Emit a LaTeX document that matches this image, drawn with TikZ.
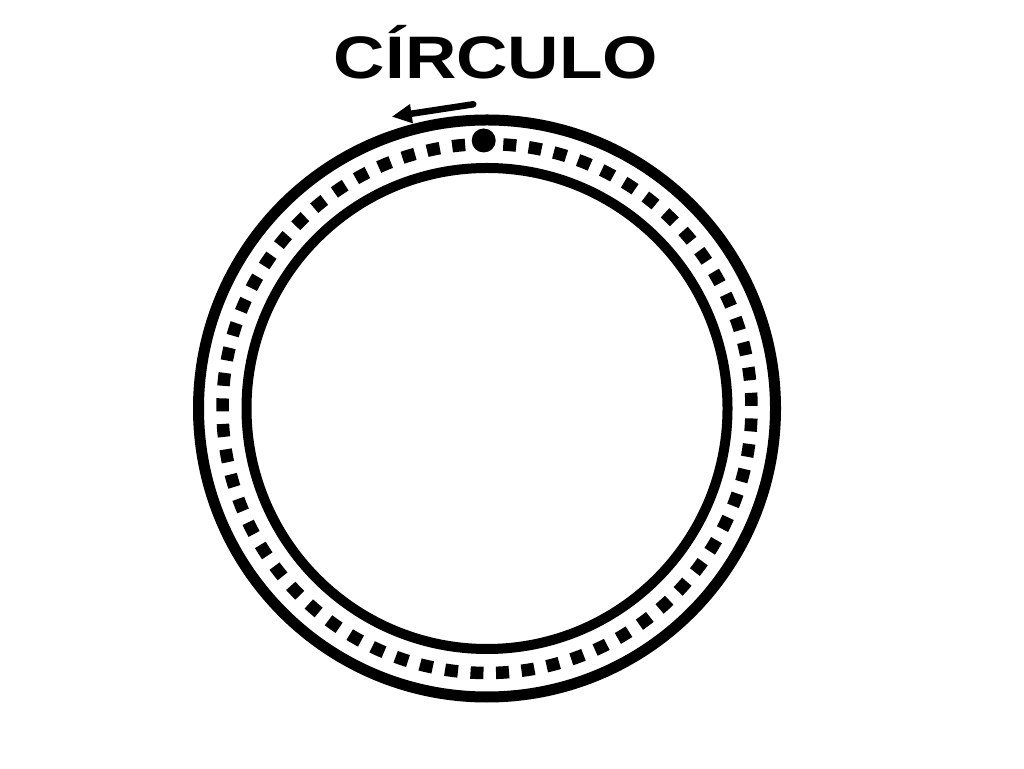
\documentclass[tikz,border=0pt]{standalone}
\usepackage{fontspec}
\setmainfont{Liberation Sans}
\usetikzlibrary{arrows.meta}

\begin{document}
\begin{tikzpicture}[
    x=1pt, y=1pt,
    ring/.style={
        draw=black,
        line width=11pt
    },
    track/.style={
        draw=black,
        line width=12.5pt,
        dash pattern=on 13pt off 12.57pt,
        dash phase=22.87pt
    },
    motion/.style={
        line width=6.5pt,
        line cap=round,
        -{Triangle[length=20pt,width=18pt]}
    }
]
    \useasboundingbox (0,0) rectangle (1024,768);
    \coordinate (centre) at (487,359.5);

    % Rings
    \draw[ring] (centre) circle[radius=288.5];
    \draw[ring, line width=10pt] (centre) circle[radius=240.5];
    \draw[track] (centre) circle[radius=264.5];

    % Particle and its direction
    \fill (483.7,627.5) circle[radius=12];
    \coordinate (tail) at (473.3,663.7);
    \coordinate (tip) at (391.7,651.3);
    \draw[motion] (tail) -- (tip);

    % Title
    \node[font=\bfseries\fontsize{60}{72}\selectfont, xscale=1.187, anchor=base] (title) at (496,689.7) {CÍRCULO};
\end{tikzpicture}
\end{document}
